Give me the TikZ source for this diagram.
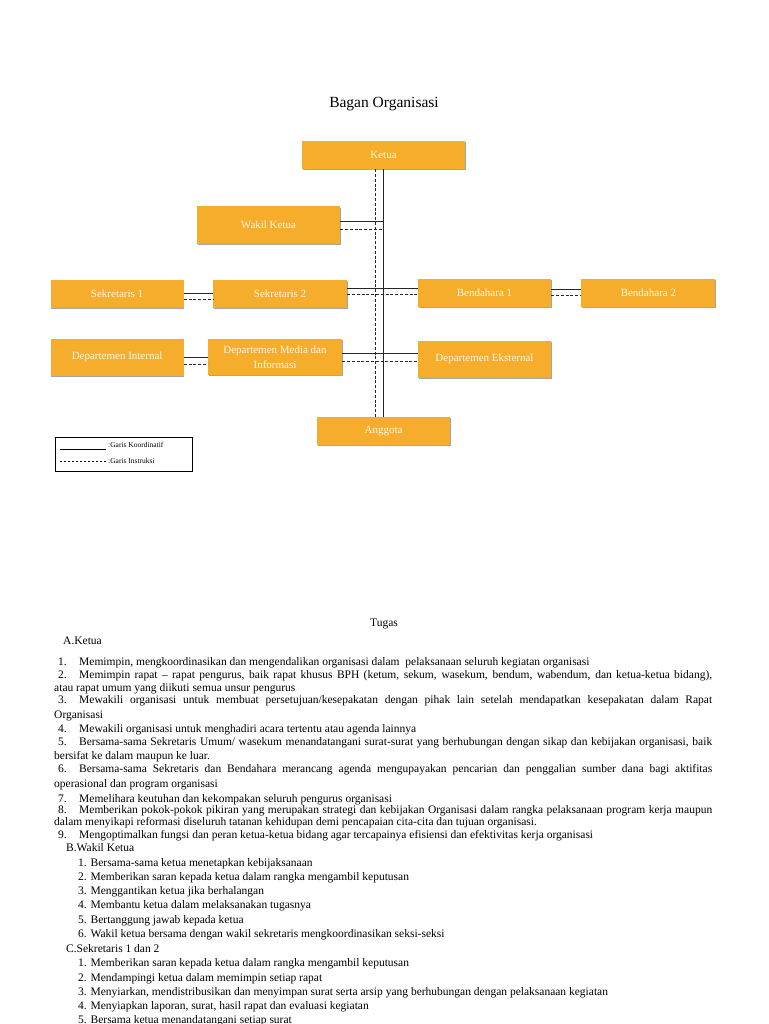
\documentclass[tikz,border=0pt]{standalone}
\usepackage{fontspec}
\setmainfont{Liberation Serif}
\usepackage{tikz}
\usetikzlibrary{positioning}
\usetikzlibrary{shadows}
\definecolor{bagfill}{RGB}{247,173,44}
\definecolor{bagtext}{RGB}{255,248,232}
\tikzset{jabatan/.style={rectangle,draw=none,fill=bagfill,text=bagtext,
inner sep=2pt,minimum height=28pt, minimum width=133pt,align=center,
font=\fontsize{11}{15}\selectfont,
drop shadow={shadow xshift=0.8pt,shadow yshift=-1.2pt,fill=black!50,opacity=0.7}}}
\tikzset{jabatantinggi/.style={jabatan,minimum height=37pt}}
\tikzset{koordinatif/.style={line width=0.8pt,draw=black!85}}
\tikzset{instruksi/.style={line width=0.8pt,draw=black!85,dash pattern=on 3pt off 1.8pt}}
\tikzset{tugasbaris/.style={anchor=base west,inner sep=0pt,font=\fontsize{11.5}{14}\selectfont}}
\tikzset{legendabaris/.style={anchor=base west,inner sep=0pt,font=\fontsize{7.5}{8}\selectfont}}
\newcommand{\rata}[1]{\makebox[654pt][s]{#1}}
\newcommand{\nomor}[1]{\makebox[21pt][l]{#1}}

\begin{document}
\begin{tikzpicture}[x=1pt,y=-1pt]
        \useasboundingbox[fill=white] (0,0) rectangle (768,1024);

        \node[font=\fontsize{15.5}{18}\selectfont] (judul) at (384,104) {Bagan Organisasi};

        \node[jabatan,minimum width=163pt] (ketua) at (383.5,155) {Ketua};
        \node[jabatantinggi,minimum width=143pt] (wakil) at (268.5,225) {Wakil Ketua};
        \node[jabatan,minimum width=134pt] (sekre2) at (280,294) {Sekretaris 2};
        \node[jabatan] (sekre1) [left=29pt of sekre2] {Sekretaris 1};
        \node[jabatan] (bend1) at (484.5,293) {Bendahara 1};
        \node[jabatan,minimum width=134pt] (bend2) [right=30pt of bend1] {Bendahara 2};
        \node[jabatantinggi,minimum width=134pt,minimum height=36pt] (media) at (275,357) {Departemen Media dan\\Informasi};
        \node[jabatantinggi] (internal) [left=24pt of media] {Departemen Internal};
        \node[jabatantinggi] (eksternal) at (484.5,359) {Departemen Eksternal};
        \node[jabatan] (anggota) at (383.5,431) {Anggota};

        \draw[koordinatif] (ketua) -- (anggota);
        \draw[instruksi] ([xshift=-8.5pt]ketua.south) -- ([xshift=-8.5pt]anggota.north);

        \draw[koordinatif] ([yshift=4pt]wakil.east) -- ([yshift=4pt]wakil.east -| ketua.south);
        \draw[instruksi] ([yshift=-4pt]wakil.east) -- ([yshift=-4pt]wakil.east -| ketua.south);

        \draw[koordinatif] ([yshift=1pt]sekre1.east) -- ([yshift=1pt]sekre1.east -| sekre2.west);
        \draw[instruksi] ([yshift=-5pt]sekre1.east) -- ([yshift=-5pt]sekre1.east -| sekre2.west);

        \draw[koordinatif] ([yshift=6pt]sekre2.east) -- ([yshift=6pt]sekre2.east -| bend1.west);
        \draw[instruksi] (sekre2.east) -- (sekre2.east -| bend1.west);

        \draw[koordinatif] ([yshift=4pt]bend1.east) -- ([yshift=4pt]bend1.east -| bend2.west);
        \draw[instruksi] ([yshift=-2pt]bend1.east) -- ([yshift=-2pt]bend1.east -| bend2.west);

        \draw[koordinatif] (internal.east) -- (internal.east -| media.west);
        \draw[instruksi] ([yshift=-7pt]internal.east) -- ([yshift=-7pt]internal.east -| media.west);

        \draw[koordinatif] ([yshift=4pt]media.east) -- ([yshift=4pt]media.east -| eksternal.west);
        \draw[instruksi] ([yshift=-4pt]media.east) -- ([yshift=-4pt]media.east -| eksternal.west);

        \node[draw=black,line width=0.6pt,minimum width=137pt,minimum height=34pt,inner sep=0pt] (legenda) at (123.5,454.5) {};
        \coordinate (garisA1) at (60,449.5);
        \coordinate (garisA2) at (106,449.5);
        \coordinate (garisB1) at (60,461);
        \coordinate (garisB2) at (106,461);
        \draw[line width=0.6pt] (garisA1) -- (garisA2);
        \draw[line width=0.5pt,dash pattern=on 2pt off 2pt] (garisB1) -- (garisB2);
        \node[legendabaris] (ketkoord) at (108,447.5) {:Garis Koordinatif};
        \node[legendabaris] (ketinstr) at (108,463) {:Garis Instruksi};

        \node[tugasbaris,anchor=base] (tugas) at (384,626.5) {Tugas};
        \node[tugasbaris] (bagA) at (63,644.5) {A.Ketua};
        \node[tugasbaris] (a1) at (58,665.5) {\nomor{1.}Memimpin, mengkoordinasikan dan mengendalikan organisasi dalam \ pelaksanaan seluruh kegiatan organisasi};
        \node[tugasbaris] (a2) at (58,678.5) {\rata{\nomor{2.}Memimpin rapat -- rapat pengurus, baik rapat khusus BPH (ketum, sekum, wasekum, bendum, wabendum, dan ketua-ketua bidang),}};
        \node[tugasbaris] (a2b) at (54,691) {atau rapat umum yang diikuti semua unsur pengurus};
        \node[tugasbaris] (a3) at (58,703) {\rata{\nomor{3.}Mewakili organisasi untuk membuat persetujuan/kesepakatan dengan pihak lain setelah mendapatkan kesepakatan dalam Rapat}};
        \node[tugasbaris] (a3b) at (54,718.5) {Organisasi};
        \node[tugasbaris] (a4) at (58,732.5) {\nomor{4.}Mewakili organisasi untuk menghadiri acara tertentu atau agenda lainnya};
        \node[tugasbaris] (a5) at (58,745) {\rata{\nomor{5.}Bersama-sama Sekretaris Umum/ wasekum menandatangani surat-surat yang berhubungan dengan sikap dan kebijakan organisasi, baik}};
        \node[tugasbaris] (a5b) at (54,759.5) {bersifat ke dalam maupun ke luar.};
        \node[tugasbaris] (a6) at (58,772) {\rata{\nomor{6.}Bersama-sama Sekretaris dan Bendahara merancang agenda mengupayakan pencarian dan penggalian sumber dana bagi aktifitas}};
        \node[tugasbaris] (a6b) at (54,787.5) {operasional dan program organisasi};
        \node[tugasbaris] (a7) at (58,802) {\nomor{7.}Memelihara keutuhan dan kekompakan seluruh pengurus organisasi};
        \node[tugasbaris] (a8) at (58,813) {\rata{\nomor{8.}Memberikan pokok-pokok pikiran yang merupakan strategi dan kebijakan Organisasi dalam rangka pelaksanaan program kerja maupun}};
        \node[tugasbaris] (a8b) at (54,825.5) {dalam menyikapi reformasi diseluruh tatanan kehidupan demi pencapaian cita-cita dan tujuan organisasi.};
        \node[tugasbaris] (a9) at (58,838) {\nomor{9.}Mengoptimalkan fungsi dan peran ketua-ketua bidang agar tercapainya efisiensi dan efektivitas kerja organisasi};

        \node[tugasbaris] (bagB) at (66,851.5) {B.Wakil Ketua};
        \node[tugasbaris] (b1) at (78,866.5) {1. Bersama-sama ketua menetapkan kebijaksanaan};
        \node[tugasbaris] (b2) at (78,880.5) {2. Memberikan saran kepada ketua dalam rangka mengambil keputusan};
        \node[tugasbaris] (b3) at (78,894.5) {3. Menggantikan ketua jika berhalangan};
        \node[tugasbaris] (b4) at (78,908.5) {4. Membantu ketua dalam melaksanakan tugasnya};
        \node[tugasbaris] (b5) at (78,923.5) {5. Bertanggung jawab kepada ketua};
        \node[tugasbaris] (b6) at (78,937.5) {6. Wakil ketua bersama dengan wakil sekretaris mengkoordinasikan seksi-seksi};

        \node[tugasbaris] (bagC) at (66,952.5) {C.Sekretaris 1 dan 2};
        \node[tugasbaris] (c1) at (78,966.5) {1. Memberikan saran kepada ketua dalam rangka mengambil keputusan};
        \node[tugasbaris] (c2) at (78,981.5) {2. Mendampingi ketua dalam memimpin setiap rapat};
        \node[tugasbaris] (c3) at (78,995.5) {3. Menyiarkan, mendistribusikan dan menyimpan surat serta arsip yang berhubungan dengan pelaksanaan kegiatan};
        \node[tugasbaris] (c4) at (78,1009.5) {4. Menyiapkan laporan, surat, hasil rapat dan evaluasi kegiatan};
        \node[tugasbaris] (c5) at (78,1023.5) {5. Bersama ketua menandatangani setiap surat};

    \end{tikzpicture}
\end{document}
